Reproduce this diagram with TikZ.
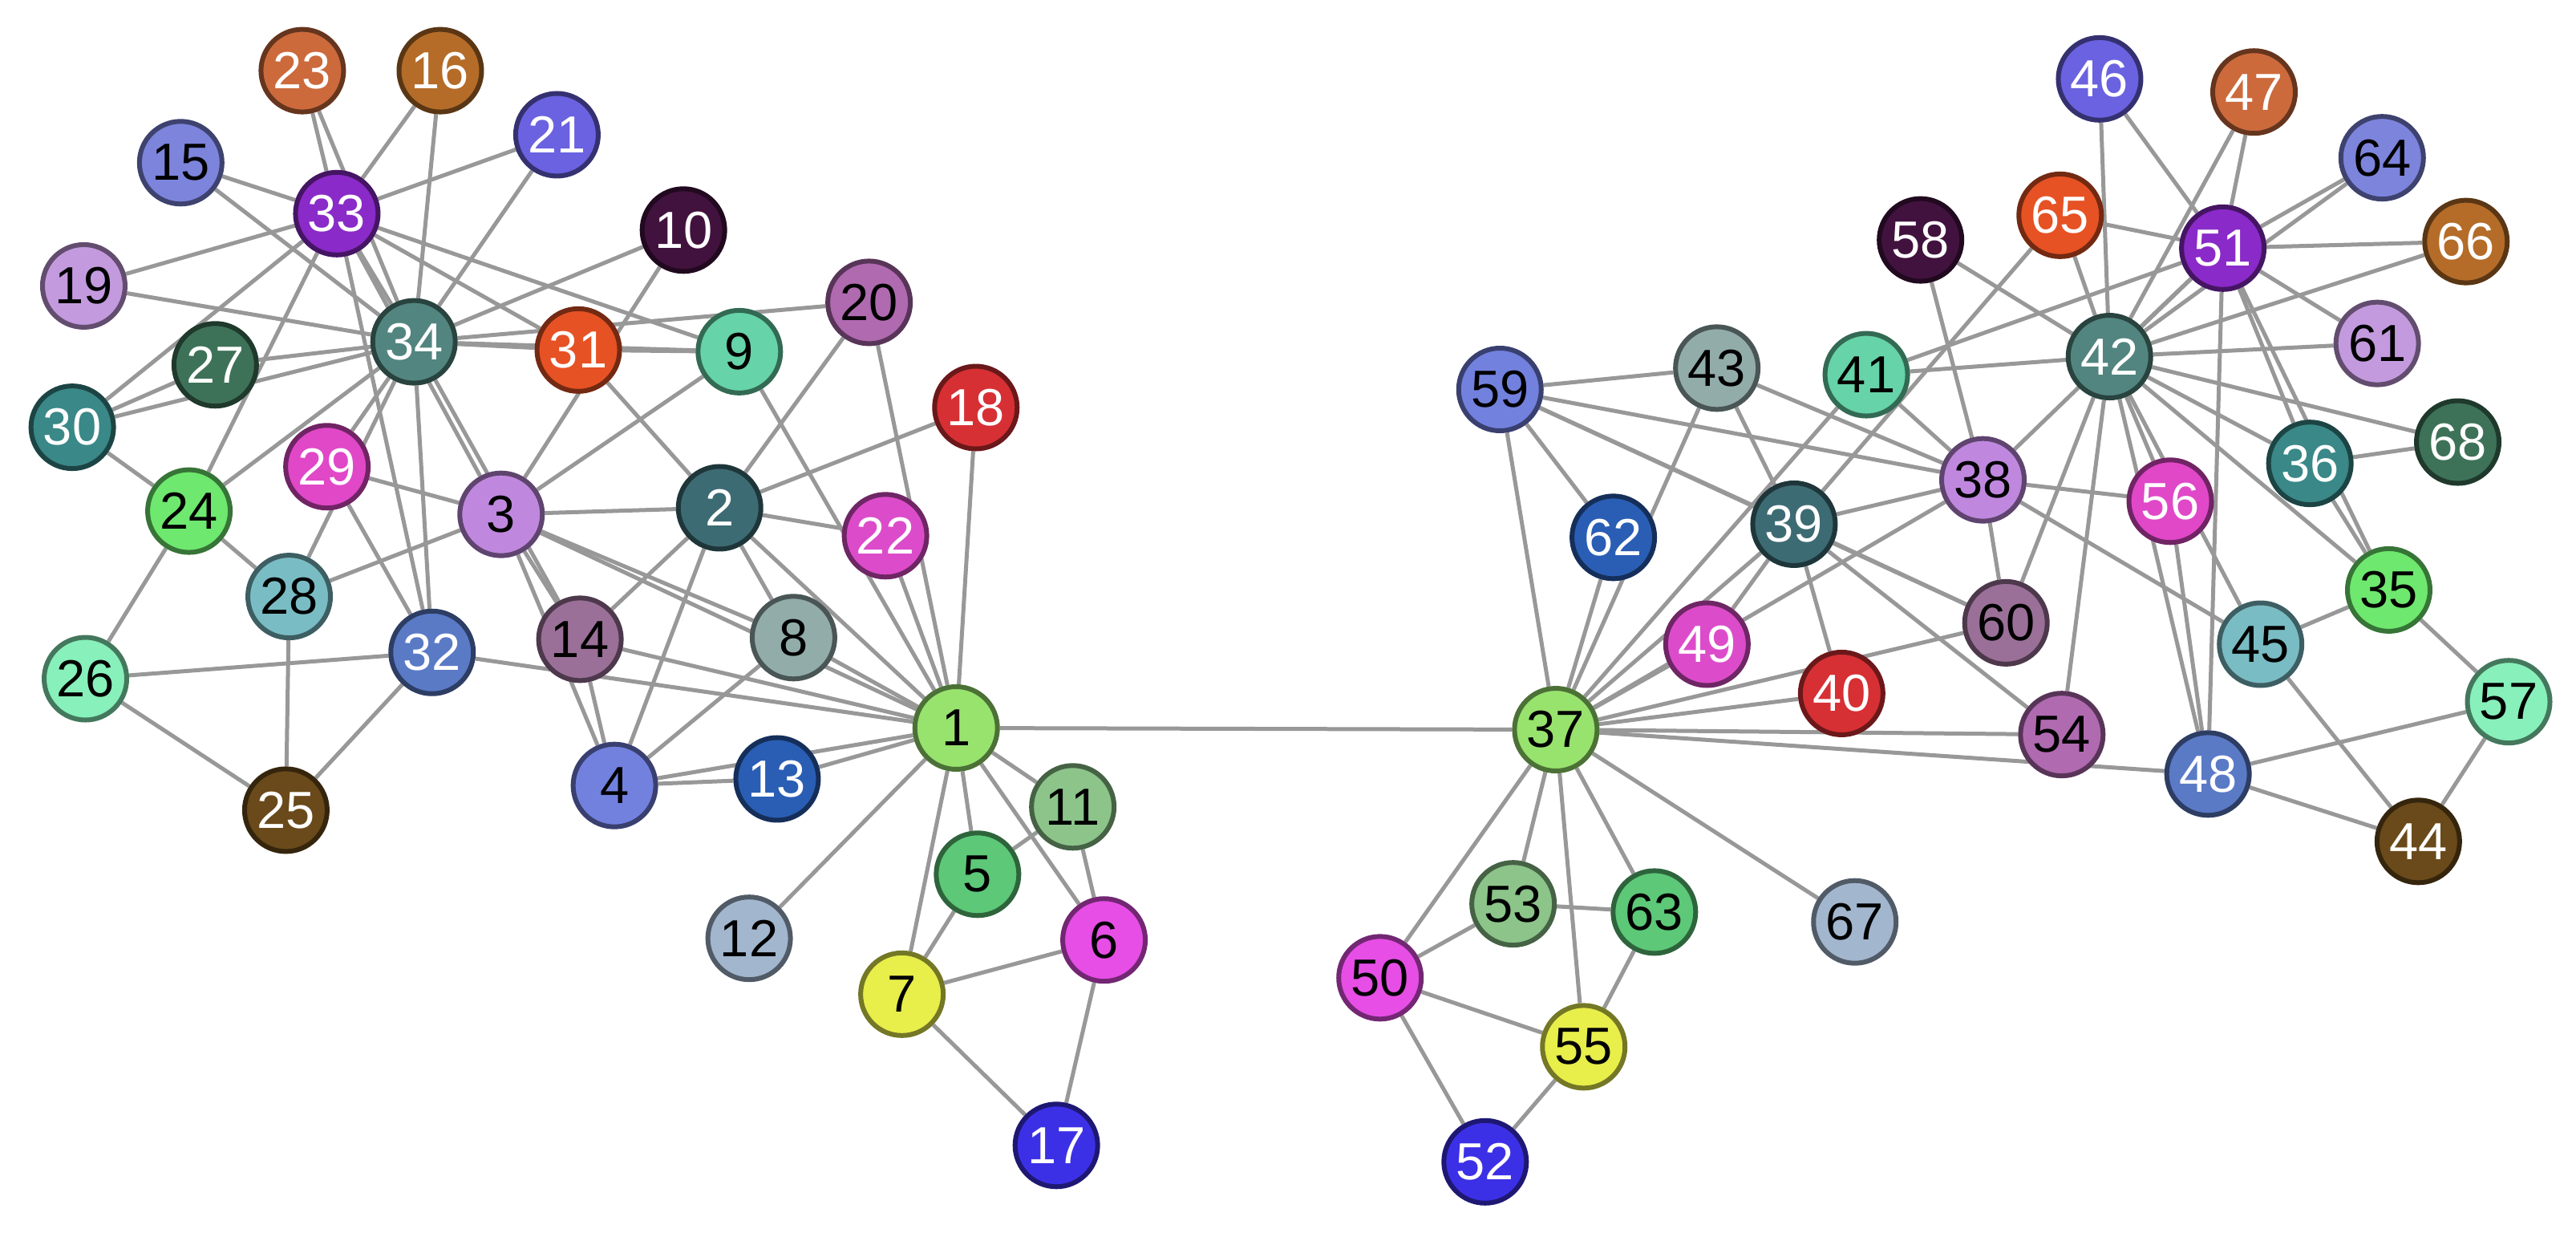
\documentclass[tikz,border=0pt]{standalone}
\usepackage{fontspec}
\setmainfont{Liberation Sans}
\pgfdeclarelayer{bg}
\pgfdeclarelayer{edges}
\pgfsetlayers{bg,edges,main}
\definecolor{edgegray}{HTML}{989898}
\definecolor{cf1}{HTML}{98E26E}
\definecolor{cf2}{HTML}{3D6B74}
\definecolor{cf3}{HTML}{BF88DE}
\definecolor{cf4}{HTML}{7281DE}
\definecolor{cf5}{HTML}{5CC878}
\definecolor{cf6}{HTML}{E64EE6}
\definecolor{cf7}{HTML}{E8EE4A}
\definecolor{cf8}{HTML}{92ACAA}
\definecolor{cf9}{HTML}{66D3A8}
\definecolor{cf10}{HTML}{42123E}
\definecolor{cf11}{HTML}{8CC48A}
\definecolor{cf12}{HTML}{A2B6CE}
\definecolor{cf13}{HTML}{2A5EB4}
\definecolor{cf14}{HTML}{9A7098}
\definecolor{cf15}{HTML}{7C84DC}
\definecolor{cf16}{HTML}{B46C28}
\definecolor{cf17}{HTML}{3C30E6}
\definecolor{cf18}{HTML}{D63034}
\definecolor{cf19}{HTML}{C49ADE}
\definecolor{cf20}{HTML}{B06AB0}
\definecolor{cf21}{HTML}{6A62E0}
\definecolor{cf22}{HTML}{DC4CCA}
\definecolor{cf23}{HTML}{CC6A3C}
\definecolor{cf24}{HTML}{6EE86E}
\definecolor{cf25}{HTML}{6A4A1A}
\definecolor{cf26}{HTML}{88F0BA}
\definecolor{cf27}{HTML}{3E7258}
\definecolor{cf28}{HTML}{7ABCC4}
\definecolor{cf29}{HTML}{E048C8}
\definecolor{cf30}{HTML}{3A8888}
\definecolor{cf31}{HTML}{E65224}
\definecolor{cf32}{HTML}{5A7AC6}
\definecolor{cf33}{HTML}{8A2AC8}
\definecolor{cf34}{HTML}{52857F}
\newcommand\vx[5]{\node[vtx,fill=cf#4,draw=cf#4!50!black,text=#5] (n#1) at (#2,#3) {#1};}
\begin{document}
\begin{tikzpicture}[x=2.0485pt,y=-2.0485pt,
  vtx/.style={circle,minimum size=103pt,inner sep=0pt,line width=6pt,font=\fontsize{65}{65}\selectfont},
  lnk/.style={draw=edgegray,line width=5pt}]
\useasboundingbox (0,0) rectangle (1568,750);
\begin{pgfonlayer}{bg}
\fill[white] (0,0) rectangle (1568,750);
\end{pgfonlayer}
% left component
\vx{1}{582}{443}{1}{black}
\vx{2}{438}{309}{2}{white}
\vx{3}{305}{313}{3}{black}
\vx{4}{374}{478}{4}{black}
\vx{5}{595}{532}{5}{black}
\vx{6}{672}{572}{6}{black}
\vx{7}{549}{605}{7}{black}
\vx{8}{483}{388}{8}{black}
\vx{9}{450}{214}{9}{black}
\vx{10}{416}{140}{10}{white}
\vx{11}{653}{491}{11}{black}
\vx{12}{456}{571}{12}{black}
\vx{13}{473}{474}{13}{white}
\vx{14}{353}{389}{14}{black}
\vx{15}{110}{99}{15}{black}
\vx{16}{268}{43}{16}{white}
\vx{17}{643}{697}{17}{white}
\vx{18}{594}{248}{18}{white}
\vx{19}{51}{174}{19}{black}
\vx{20}{529}{184}{20}{black}
\vx{21}{339}{82}{21}{white}
\vx{22}{539}{326}{22}{white}
\vx{23}{184}{43}{23}{white}
\vx{24}{115}{311}{24}{black}
\vx{25}{174}{493}{25}{white}
\vx{26}{52}{413}{26}{black}
\vx{27}{131}{222}{27}{white}
\vx{28}{176}{363}{28}{black}
\vx{29}{199}{284}{29}{white}
\vx{30}{44}{260}{30}{white}
\vx{31}{352}{213}{31}{white}
\vx{32}{263}{397}{32}{white}
\vx{33}{205}{130}{33}{white}
\vx{34}{252}{208}{34}{white}
% right component
\vx{35}{1454}{359}{24}{black}
\vx{36}{1406}{282}{30}{white}
\vx{37}{947}{444}{1}{black}
\vx{38}{1207}{292}{3}{black}
\vx{39}{1092}{319}{2}{white}
\vx{40}{1121}{422}{18}{white}
\vx{41}{1136}{228}{9}{black}
\vx{42}{1284}{217}{34}{white}
\vx{43}{1045}{224}{8}{black}
\vx{44}{1472}{512}{25}{white}
\vx{45}{1376}{392}{28}{black}
\vx{46}{1278}{48}{21}{white}
\vx{47}{1372}{56}{23}{white}
\vx{48}{1344}{471}{32}{white}
\vx{49}{1039}{392}{22}{white}
\vx{50}{840}{595}{6}{black}
\vx{51}{1353}{151}{33}{white}
\vx{52}{904}{707}{17}{white}
\vx{53}{921}{550}{11}{black}
\vx{54}{1255}{447}{20}{black}
\vx{55}{964}{637}{7}{black}
\vx{56}{1321}{305}{29}{white}
\vx{57}{1527}{427}{26}{black}
\vx{58}{1169}{146}{10}{white}
\vx{59}{913}{237}{4}{black}
\vx{60}{1221}{379}{14}{black}
\vx{61}{1447}{209}{19}{black}
\vx{62}{982}{327}{13}{white}
\vx{63}{1007}{555}{5}{black}
\vx{64}{1450}{96}{15}{black}
\vx{65}{1254}{131}{31}{white}
\vx{66}{1501}{147}{16}{white}
\vx{67}{1129}{561}{12}{black}
\vx{68}{1496}{269}{27}{white}
\begin{pgfonlayer}{edges}
\foreach \a/\b in {1/2,1/3,1/4,1/5,1/6,1/7,1/8,1/9,1/11,1/12,1/13,1/14,1/18,1/20,1/22,1/32,
  2/3,2/4,2/8,2/14,2/18,2/20,2/22,2/31,
  3/4,3/8,3/9,3/10,3/14,3/28,3/29,3/33,
  4/8,4/13,4/14,5/7,5/11,6/7,6/11,6/17,7/17,
  9/31,9/33,9/34,10/34,14/34,15/33,15/34,16/33,16/34,19/33,19/34,20/34,
  21/33,21/34,23/33,23/34,24/26,24/28,24/30,24/33,24/34,
  25/26,25/28,25/32,26/32,27/30,27/34,28/34,29/32,29/34,
  30/33,30/34,31/33,31/34,32/33,32/34,33/34,1/37,
  37/39,37/38,37/59,37/63,37/50,37/55,37/43,37/41,37/53,37/67,37/62,37/60,37/40,37/54,37/49,37/48,
  39/38,39/59,39/43,39/60,39/40,39/54,39/49,39/65,
  38/59,38/43,38/41,38/58,38/60,38/45,38/56,38/51,
  59/43,59/62,59/60,63/55,63/53,50/55,50/53,50/52,55/52,
  41/51,41/42,58/42,60/42,64/51,64/42,66/51,66/42,61/51,61/42,54/42,
  46/51,46/42,47/51,47/42,35/57,35/45,35/36,35/51,35/42,
  44/57,44/45,44/48,57/48,68/36,68/42,45/42,56/48,56/42,
  36/51,36/42,65/51,65/42,48/51,48/42,51/42}
  \draw[lnk] (n\a) -- (n\b);
\end{pgfonlayer}
\end{tikzpicture}
\end{document}
